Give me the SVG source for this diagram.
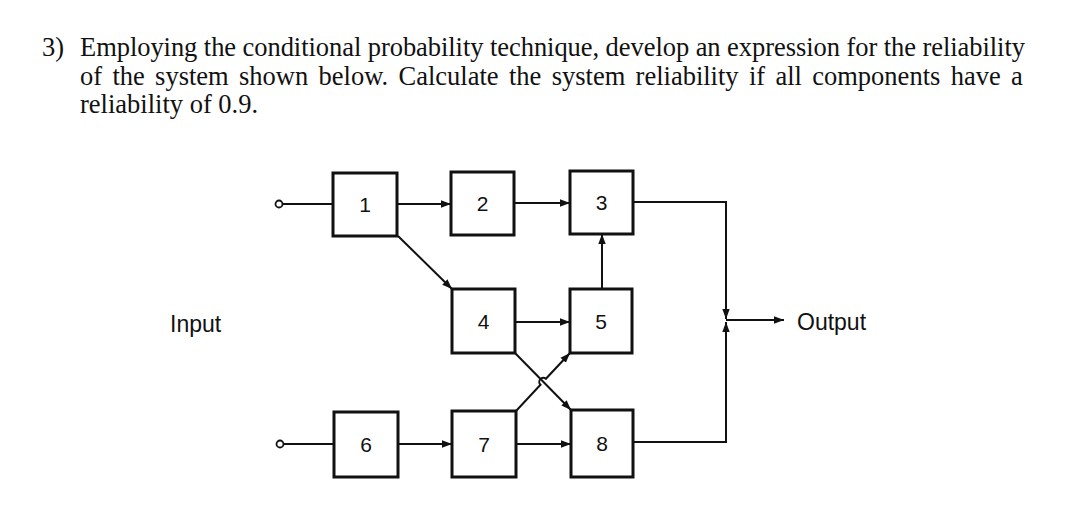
<svg xmlns="http://www.w3.org/2000/svg" width="1080" height="517" viewBox="0 0 1080 517">
<defs>
<style>
.q{font-family:"Liberation Serif","Times New Roman",serif;font-size:26.5px;fill:#111}
.lbl{font-family:"Liberation Sans",Arial,sans-serif;font-size:23px;fill:#111}
.num{font-family:"Liberation Sans",Arial,sans-serif;font-size:21px;fill:#111;text-anchor:middle}
.box{fill:#fff;stroke:#111;stroke-width:3}
.ln{fill:none;stroke:#111;stroke-width:2}
.arr{fill:none;stroke:#111;stroke-width:2;marker-end:url(#ah)}
</style>
<marker id="ah" markerUnits="userSpaceOnUse" markerWidth="11" markerHeight="9" refX="10" refY="4.5" orient="auto">
<path d="M0,0.8 L10,4.5 L0,8.2 Z" fill="#111"/>
</marker>
</defs>
<rect width="1080" height="517" fill="#fff"/>
<g id="question">
<text class="q" x="42" y="56">3)</text>
<text class="q" x="80" y="56" textLength="945" lengthAdjust="spacing">Employing the conditional probability technique, develop an expression for the reliability</text>
<text class="q" x="80" y="85" word-spacing="3.7">of the system shown below. Calculate the system reliability if all components have a</text>
<text class="q" x="80" y="113">reliability of 0.9.</text>
</g>
<g id="connectors">
<circle cx="279" cy="204" r="3.5" fill="#fff" stroke="#111" stroke-width="1.8"/>
<line class="ln" x1="282.5" y1="204" x2="333" y2="204"/>
<line class="arr" x1="398" y1="204" x2="451" y2="204"/>
<line class="arr" x1="514" y1="203" x2="570" y2="203"/>
<path class="arr" d="M633,202 H726 V319"/>
<line class="arr" x1="398" y1="236" x2="452" y2="289"/>
<line class="arr" x1="602" y1="289" x2="602" y2="234"/>
<line class="arr" x1="515" y1="322" x2="570" y2="322"/>
<line class="arr" x1="515" y1="353" x2="571" y2="410"/>
<path class="arr" d="M516,411 L540.5,384.7 A4,4 0 0 1 545.9,378.8 L570,353"/>
<circle cx="280" cy="444" r="3.5" fill="#fff" stroke="#111" stroke-width="1.8"/>
<line class="ln" x1="283.5" y1="444" x2="334" y2="444"/>
<line class="arr" x1="398" y1="444" x2="452" y2="444"/>
<line class="arr" x1="516" y1="444" x2="571" y2="444"/>
<path class="arr" d="M633,442 H726 V322"/>
<line class="arr" x1="726" y1="320" x2="784" y2="320"/>
</g>
<g id="n1"><rect class="box" x="333" y="173" width="64" height="63"/><text class="num" x="365" y="212">1</text></g>
<g id="n2"><rect class="box" x="451" y="172" width="63" height="63"/><text class="num" x="482.5" y="211">2</text></g>
<g id="n3"><rect class="box" x="570" y="171" width="63" height="63"/><text class="num" x="601.5" y="210">3</text></g>
<g id="n4"><rect class="box" x="452" y="289" width="63" height="64"/><text class="num" x="483.5" y="329">4</text></g>
<g id="n5"><rect class="box" x="570" y="289" width="62" height="64"/><text class="num" x="601" y="329">5</text></g>
<g id="n6"><rect class="box" x="334" y="412" width="64" height="65"/><text class="num" x="366" y="452">6</text></g>
<g id="n7"><rect class="box" x="452" y="411" width="64" height="66"/><text class="num" x="484" y="452">7</text></g>
<g id="n8"><rect class="box" x="571" y="410" width="62" height="67"/><text class="num" x="602" y="451">8</text></g>
<g id="input"><text class="lbl" x="170" y="332">Input</text></g>
<g id="output"><text class="lbl" x="797" y="330">Output</text></g>
</svg>
